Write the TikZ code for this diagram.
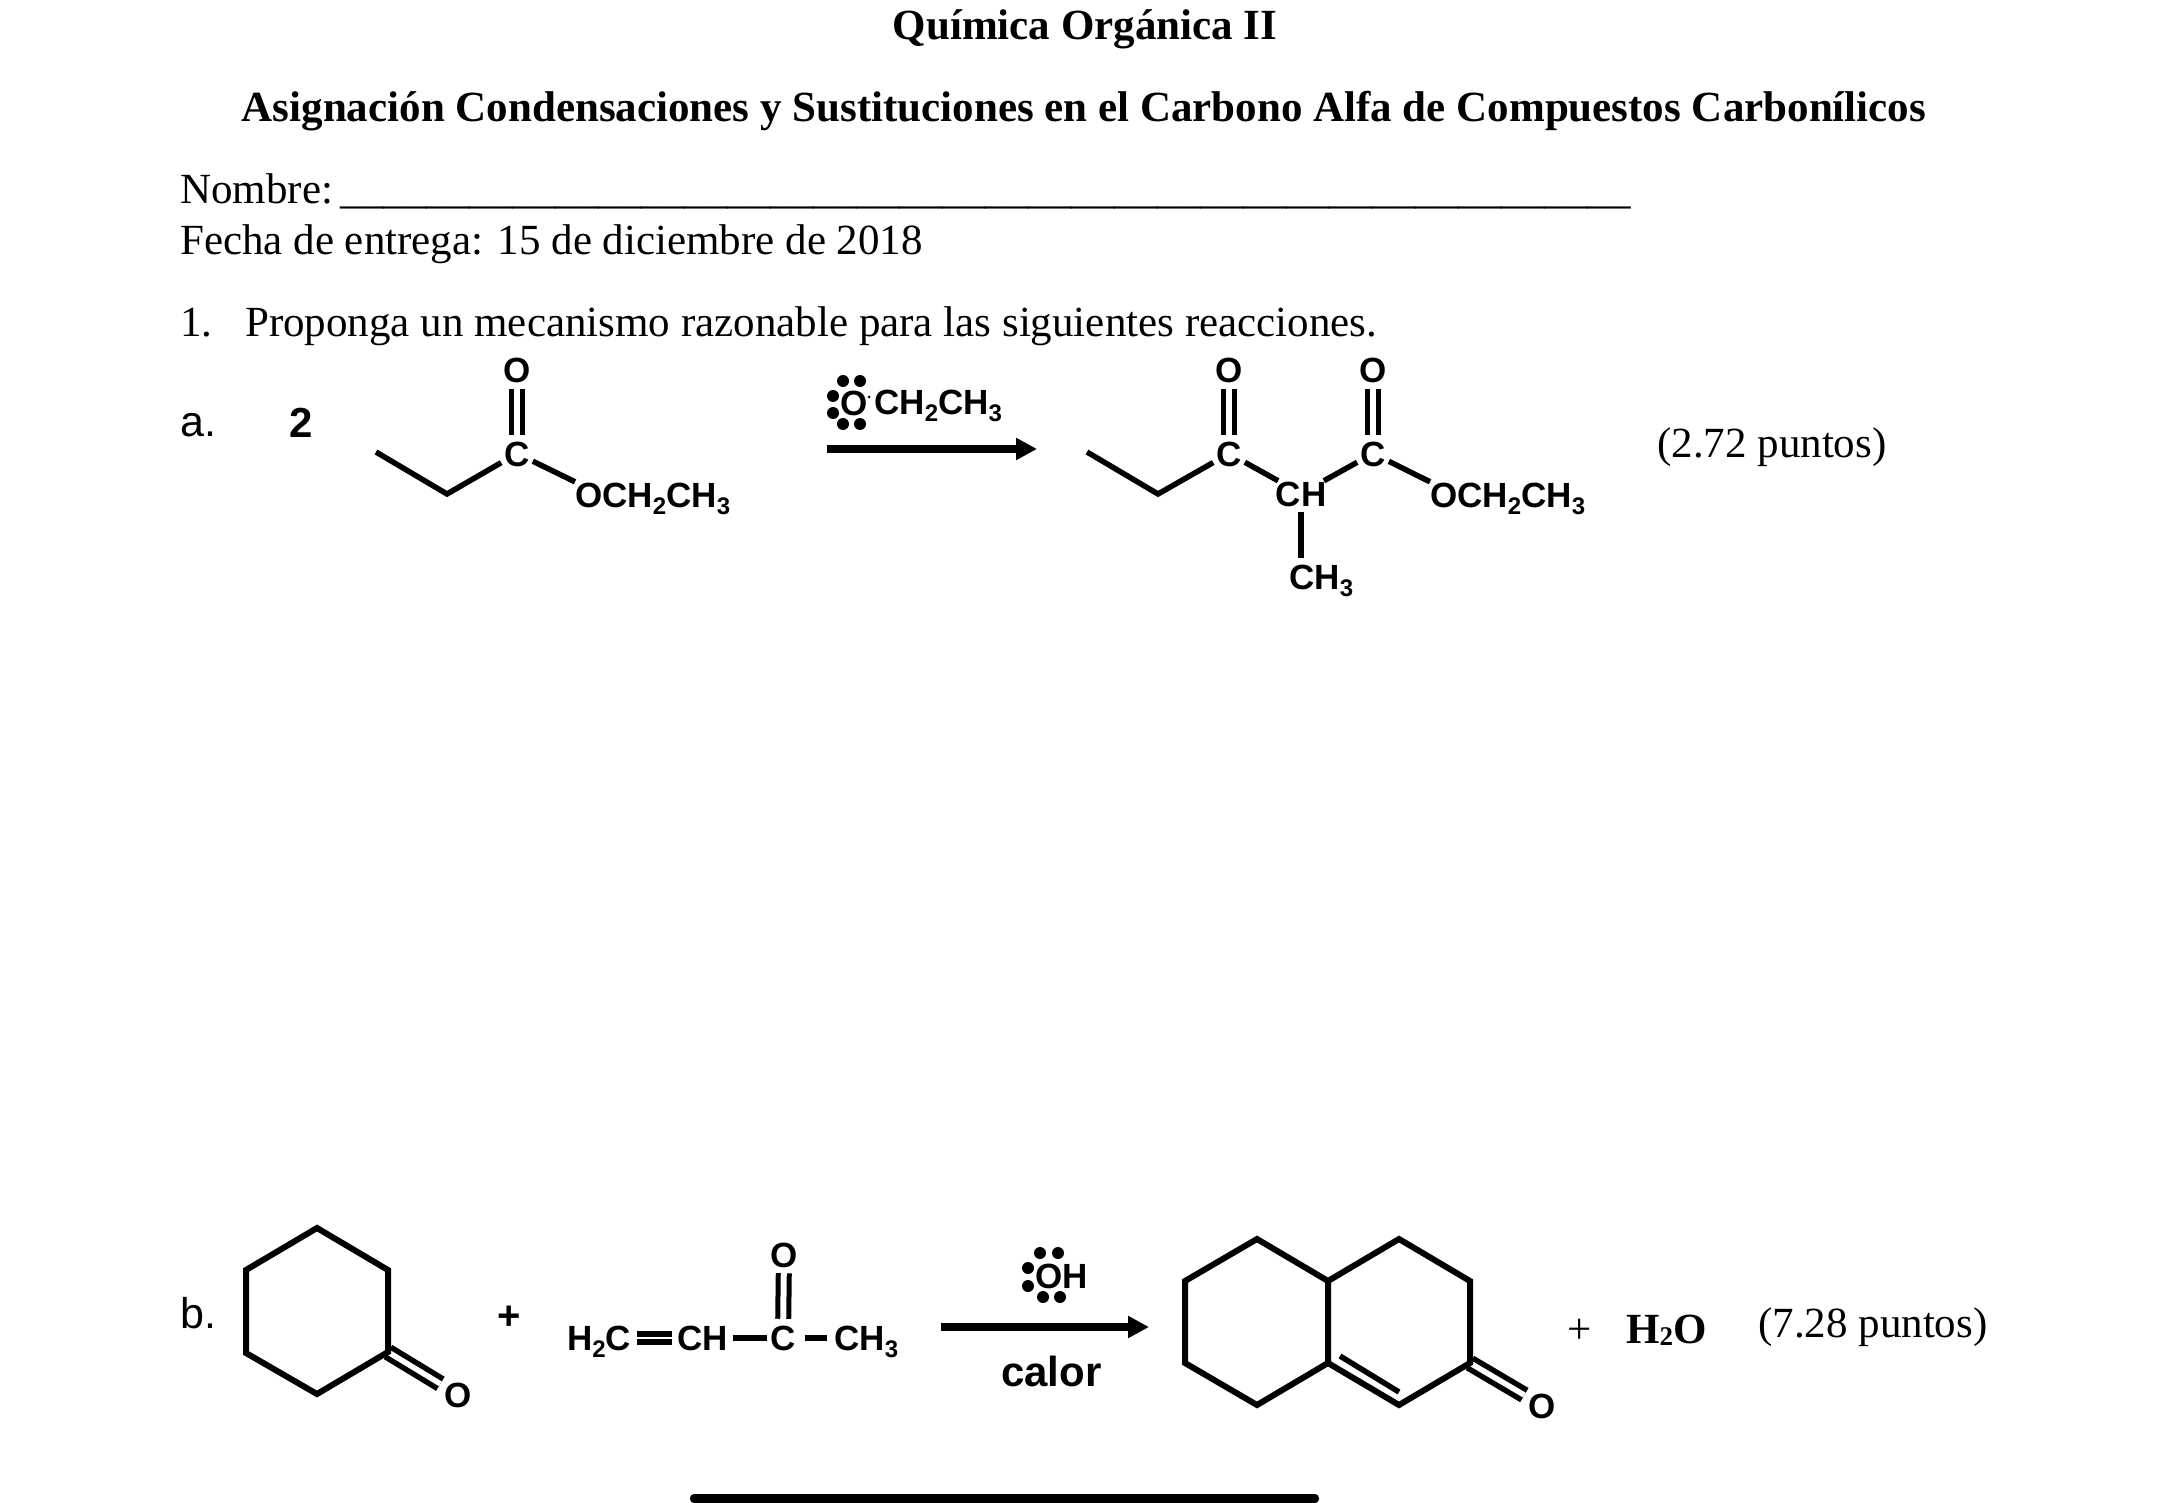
\documentclass[tikz,border=0pt]{standalone}
\usepackage{fontspec}
\setmainfont{Liberation Serif}
\setsansfont{Liberation Sans}
\usetikzlibrary{arrows.meta}
\newcommand{\subs}[1]{\raisebox{-7pt}{\fontsize{24}{24}\selectfont #1}}
\tikzstyle{line}=[font=\fontsize{43}{50}\selectfont,inner sep=0pt,anchor=base west]
\tikzstyle{title}=[line,font=\fontsize{43}{50}\selectfont\bfseries,anchor=base]
\tikzstyle{item}=[inner sep=0pt,anchor=base west,font=\sffamily\fontsize{43}{50}\selectfont]
\tikzstyle{atom}=[inner ysep=0pt,inner xsep=3pt,anchor=base,text height=25pt,text depth=0pt,
  font=\sffamily\bfseries\fontsize{35}{38}\selectfont]
\tikzstyle{group}=[atom,anchor=base west,inner xsep=0pt]
\tikzstyle{bond}=[line width=5.5pt]
\tikzstyle{ring}=[line width=6pt,line join=miter]
\tikzstyle{carbonyl}=[line width=5pt,double,double distance=6.5pt,shorten <=6pt,shorten >=6pt]
\tikzstyle{keto}=[line width=5.5pt,double,double distance=5.5pt,shorten >=1pt]
\tikzstyle{rxn}=[line width=8pt,-{Triangle[length=21pt,width=21pt]}]
\begin{document}
\begin{tikzpicture}[x=1pt,y=-1pt]
  \useasboundingbox (0,0) rectangle (2174,1503);
  \fill[white] (0,0) rectangle (2174,1503);
  % heading
  \node(head1)[title] at (1085,40){Química Orgánica II};
  \node(head2)[title] at (1084,122){Asignación Condensaciones y Sustituciones en el Carbono Alfa de Compuestos Carbonílicos};
  \node(name)[line] at (180,204){Nombre:\hspace{7.5pt}\foreach \n in {1,...,60}{\_}};
  \node(date)[line] at (180,255){Fecha de entrega: 15 de diciembre de 2018};
  \node(num)[line] at (180,337){1.};
  \node(task)[line] at (245,337){Proponga un mecanismo razonable para las siguientes reacciones.};
  % part a
  \node(parta)[item] at (180,436){a.};
  \node(two)[item,font=\sffamily\bfseries\fontsize{42}{50}\selectfont] at (289,437){2};
  \coordinate(a1) at (376,452);
  \coordinate(a2) at (447,494);
  \node(ac)[atom] at (517,466){C};
  \node(ao)[atom] at (517,383){O};
  \node(aor)[group] at (575,507){OCH\subs{2}CH\subs{3}};
  \draw[bond] (a1) -- (a2) -- (ac);
  \draw[bond] (ac) -- (aor.north west);
  \draw[carbonyl] (ac) -- (ao);
  % reagent
  \node(eto)[atom] at (854,415){O};
  \node(etr)[group] at (874,414){CH\subs{2}CH\subs{3}};
  \foreach \x/\y in {843/381,860/381,843/424,860/424,833/396,833/413}
    \fill (\x,\y) circle[radius=6pt];
  \fill (869,397) circle[radius=1.5pt];
  \coordinate(r1) at (827,449);
  \coordinate(r2) at (1037,449);
  \draw[rxn] (r1) -- (r2);
  % product a
  \coordinate(p1) at (1087,452);
  \coordinate(p2) at (1158,494);
  \node(pc1)[atom] at (1229,466){C};
  \node(po1)[atom] at (1229,383){O};
  \node(pch)[atom] at (1301,506){CH};
  \node(pc2)[atom] at (1373,466){C};
  \node(po2)[atom] at (1373,383){O};
  \node(por)[group] at (1430,507){OCH\subs{2}CH\subs{3}};
  \node(pme)[group] at (1289,589){CH\subs{3}};
  \draw[bond] (p1) -- (p2) -- (pc1);
  \draw[bond] (pc1) -- (pch);
  \draw[bond] (pch) -- (pc2);
  \draw[bond] (pc2) -- (por.north west);
  \draw[bond,shorten <=6pt,shorten >=6pt] (pch) -- (pch |- pme.north);
  \draw[carbonyl] (pc1) -- (po1);
  \draw[carbonyl] (pc2) -- (po2);
  \node(pts1)[line] at (1657,457){(2.72 puntos)};
  % part b
  \node(partb)[item] at (180,1328){b.};
  \coordinate(b1) at (317,1228);
  \coordinate(b2) at (388,1270);
  \coordinate(b3) at (388,1352);
  \coordinate(b4) at (317,1394);
  \coordinate(b5) at (246,1353);
  \coordinate(b6) at (246,1270);
  \node(bo)[atom] at (458,1407){O};
  \draw[keto] (b3) -- (bo);
  \draw[ring] (b1) -- (b2) -- (b3) -- (b4) -- (b5) -- (b6) -- cycle;
  \node(plus1)[atom,font=\sffamily\bfseries\fontsize{40}{48}\selectfont] at (509,1329){+};
  % enone
  \node(h2c)[group] at (567,1350){H\subs{2}C};
  \node(vch)[group] at (677,1350){CH};
  \node(vc)[atom] at (783,1350){C};
  \node(vme)[group] at (834,1350){CH\subs{3}};
  \node(vo)[atom] at (784,1267){O};
  \draw[line width=6pt,double,double distance=2pt,shorten <=6pt,shorten >=5pt] (h2c.east) -- (vch.west);
  \draw[line width=6pt,shorten <=5pt] (vch) -- (vc);
  \draw[line width=6pt,shorten <=6pt,shorten >=7pt] (vc) -- (vme);
  \draw[carbonyl,double distance=6pt] (vc) -- (vo);
  \coordinate(s1) at (941,1327);
  \coordinate(s2) at (1149,1327);
  \draw[rxn] (s1) -- (s2);
  \node(oh)[group] at (1035,1288){OH};
  \foreach \x/\y in {1040/1253,1058/1253,1043/1297,1060/1297,1028/1268,1028/1286}
    \fill (\x,\y) circle[radius=6pt];
  \node(heat)[item,font=\sffamily\bfseries\fontsize{42}{50}\selectfont] at (1001,1386){calor};
  % product b
  \coordinate(d1) at (1257,1239);
  \coordinate(d2) at (1328,1281);
  \coordinate(d3) at (1328,1363);
  \coordinate(d4) at (1257,1405);
  \coordinate(d5) at (1185,1363);
  \coordinate(d6) at (1185,1281);
  \coordinate(d7) at (1399,1239);
  \coordinate(d8) at (1470,1281);
  \coordinate(d9) at (1470,1363);
  \coordinate(d10) at (1399,1405);
  \coordinate(e1) at (1340,1356);
  \coordinate(e2) at (1399,1392);
  \node(do)[atom] at (1542,1418){O};
  \draw[keto] (d9) -- (do);
  \draw[ring] (d2) -- (d1) -- (d6) -- (d5) -- (d4) -- (d3) -- cycle;
  \draw[ring] (d2) -- (d7) -- (d8) -- (d9) -- (d10) -- (d3);
  \draw[bond] (e1) -- (e2);
  \node(plus2)[line] at (1567,1343){+};
  \node(water)[line,font=\fontsize{43}{50}\selectfont\bfseries] at (1626,1343){H\raisebox{-2pt}{\fontsize{27}{27}\selectfont 2}O};
  \node(pts2)[line] at (1758,1337){(7.28 puntos)};
  % home bar
  \fill[rounded corners=4pt] (690,1494) rectangle (1319,1503);
\end{tikzpicture}
\end{document}
